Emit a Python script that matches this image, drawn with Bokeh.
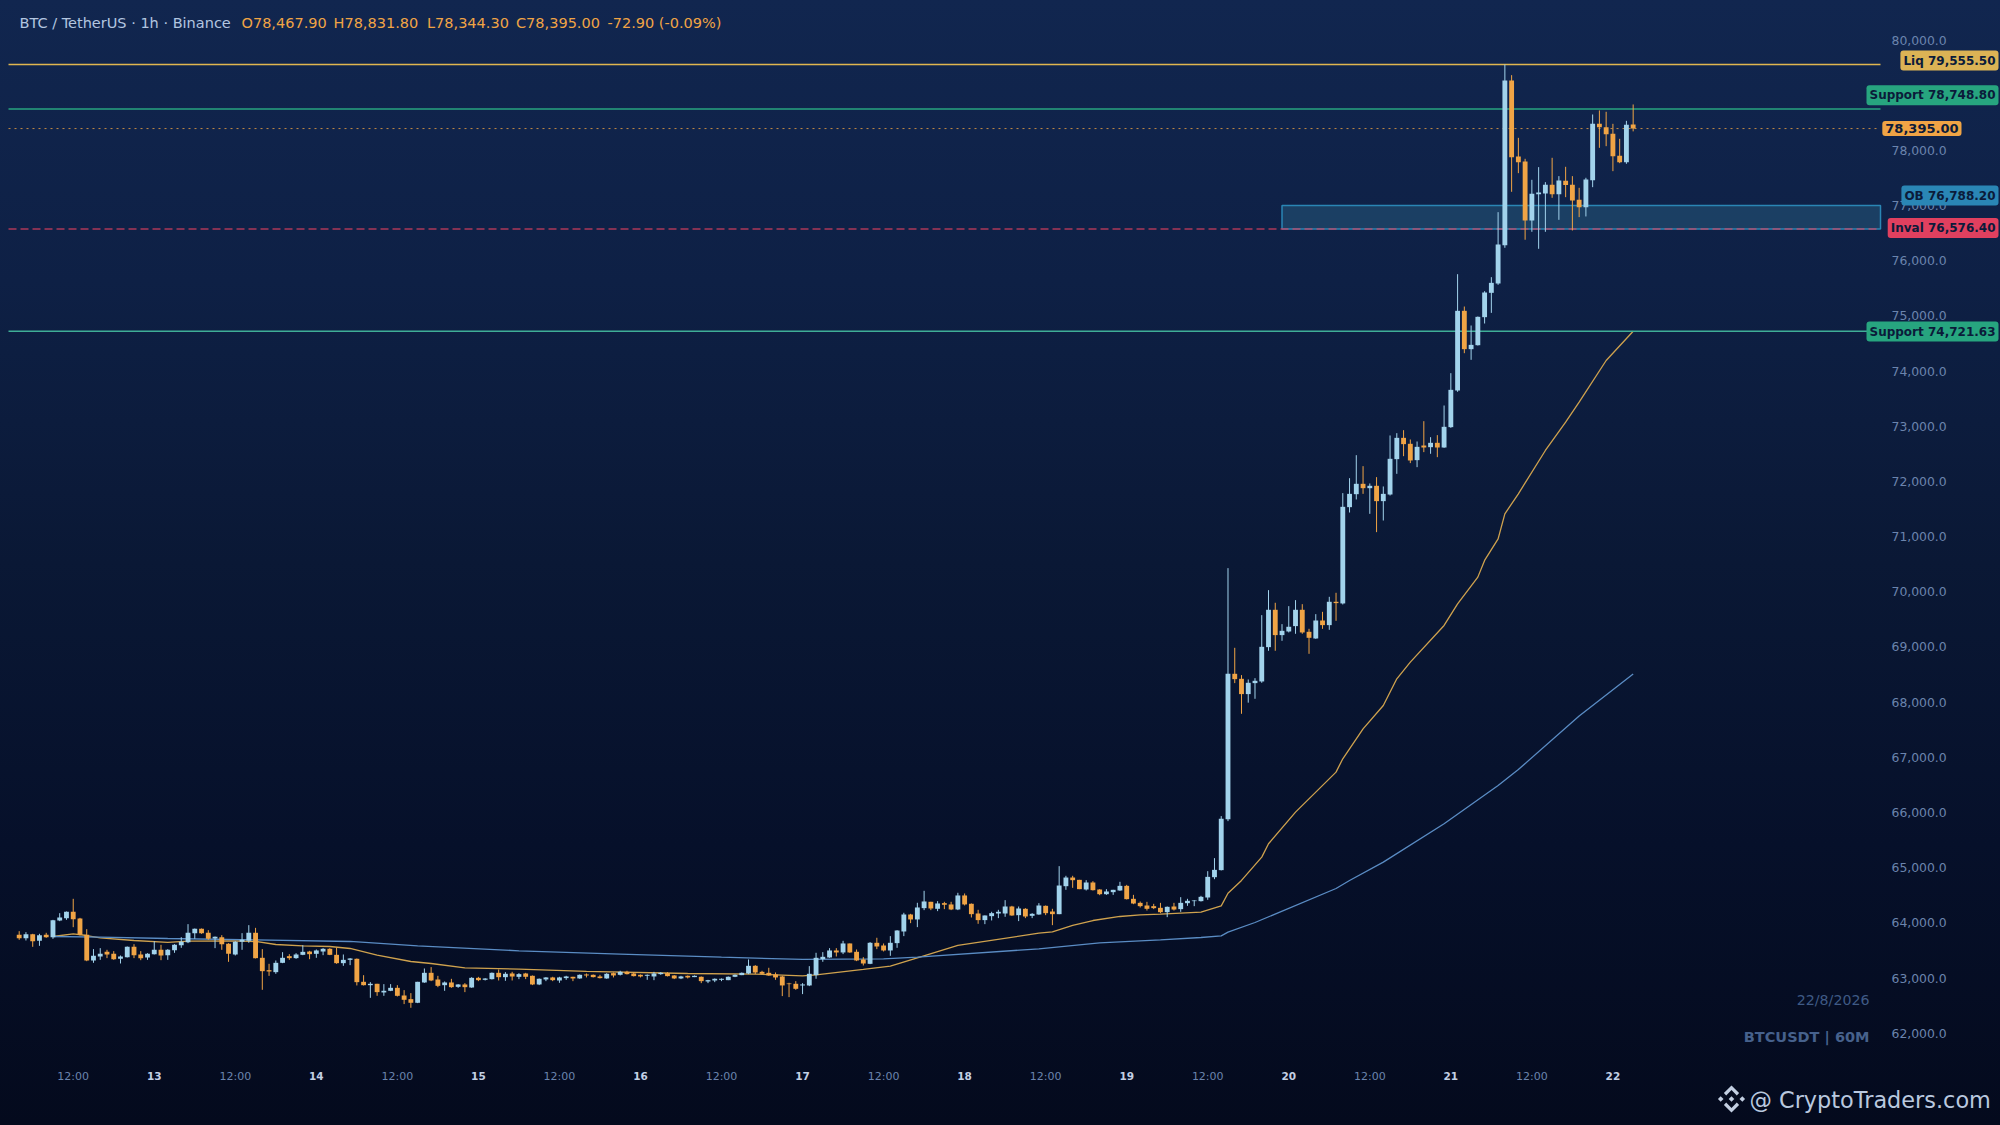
from bokeh.plotting import figure
from bokeh.models import Range1d, LinearAxis, FixedTicker, NumeralTickFormatter, Label
from bokeh.embed import file_html
from bokeh.resources import INLINE

opens = [
63784,63723,63796,63675,63784,63741,64043,64085,64200,64079,
63784,63318,63391,63475,63439,63349,63379,63566,63427,63373,
63433,63512,63415,63506,63596,63651,63814,63892,63820,63717,
63741,63620,63427,63657,63675,63820,63367,63143,63107,63276,
63397,63361,63421,63481,63439,63481,63530,63421,63270,63330,
63349,62932,62871,62896,62739,62769,62823,62684,62618,62552,
62920,63095,62974,62871,62920,62841,62884,62829,63004,62968,
62980,63095,63016,63083,63022,63083,63041,62884,62975,63011,
62956,62999,63023,62993,63065,63059,63029,62993,63089,63059,
63113,63083,63059,63041,63029,63071,63089,63047,62993,63041,
63017,63023,62938,62956,62968,62962,63023,63053,63083,63222,
63113,63095,63065,63029,62902,62896,62866,62866,63053,63343,
63373,63500,63464,63627,63476,63337,63258,63639,63590,63500,
63633,63844,64152,64062,64267,64382,64255,64358,64334,64243,
64497,64346,64170,64050,64122,64170,64170,64297,64140,64255,
64128,64152,64309,64206,64158,64665,64822,64780,64605,64732,
64605,64520,64557,64587,64671,64436,64363,64315,64303,64273,
64194,64297,64249,64357,64394,64394,64460,64828,64956,65880,
68514,68423,68146,68345,68375,68997,69674,69215,69281,69378,
69674,69275,69154,69480,69396,69819,69789,71534,71769,71957,
71878,71921,71643,71763,72404,72790,72682,72386,72651,72621,
72700,72615,72984,73648,75092,74397,74469,74977,75418,75587,
76282,79266,77889,77798,76729,77206,77219,77376,77206,77448,
77376,77104,76971,77460,78481,78421,78300,77901,77786,78467.9]
closes = [
63723,63796,63669,63777,63741,64049,64097,64200,64067,63784,
63318,63403,63439,63427,63342,63391,63566,63415,63361,63439,
63512,63409,63512,63602,63657,63820,63892,63814,63711,63747,
63614,63439,63657,63693,63820,63361,63125,63119,63276,63367,
63361,63427,63475,63433,63500,63530,63421,63270,63330,63355,
62926,62871,62896,62745,62769,62823,62678,62606,62552,62932,
63095,62956,62859,62920,62835,62884,62835,63004,62962,62992,
63095,63016,63077,63028,63071,63023,62884,62987,63011,62962,
63011,63029,62993,63059,63047,63017,62999,63077,63047,63113,
63071,63035,63029,63059,63083,63095,63035,62993,63029,63011,
63041,62944,62962,62987,62987,63023,63059,63095,63222,63101,
63077,63047,63011,62866,62890,62805,62884,63077,63367,63385,
63500,63464,63627,63464,63319,63264,63639,63572,63500,63639,
63862,64152,64062,64279,64388,64261,64352,64328,64243,64497,
64334,64158,64050,64134,64176,64201,64297,64134,64261,64116,
64164,64315,64176,64158,64677,64822,64774,64611,64732,64593,
64520,64569,64599,64671,64430,64351,64303,64255,64267,64194,
64291,64242,64363,64400,64406,64472,64834,64961,65887,68514,
68417,68146,68351,68387,69003,69674,69215,69293,69366,69674,
69263,69166,69480,69396,69819,69795,71540,71775,71957,71878,
71921,71643,71775,72410,72790,72676,72380,72627,72615,72700,
72615,72990,73660,75092,74397,74475,74983,75424,75599,76295,
79266,77877,77786,76729,77212,77236,77376,77206,77454,77370,
77092,76971,77472,78481,78421,78294,77895,77786,78463,78395]
highs = [
63850,63832,63802,63802,63820,64055,64176,64206,64436,64091,
63886,63524,63542,63512,63488,63409,63572,63614,63488,63451,
63669,63602,63524,63614,63741,63977,63898,63898,63868,63753,
63777,63632,63669,63814,63959,63910,63524,63258,63318,63469,
63433,63451,63596,63494,63518,63542,63542,63548,63427,63361,
63355,63052,62926,62896,62890,62890,62871,62781,62727,62932,
63173,63198,63040,62938,62986,62890,62908,63016,63022,62998,
63101,63155,63107,63113,63089,63095,63047,62993,63017,63023,
63023,63041,63023,63065,63083,63065,63059,63089,63101,63132,
63132,63107,63065,63065,63113,63107,63107,63053,63041,63047,
63047,63029,62968,62993,62993,63029,63065,63101,63337,63234,
63132,63186,63101,63041,62914,62944,62908,63216,63458,63470,
63542,63542,63675,63627,63518,63379,63651,63730,63627,63760,
63868,64183,64164,64364,64581,64382,64394,64382,64382,64545,
64533,64352,64237,64134,64201,64237,64412,64309,64297,64267,
64176,64358,64315,64255,65028,64853,64853,64780,64774,64756,
64611,64611,64599,64744,64689,64508,64387,64381,64345,64363,
64297,64363,64466,64436,64412,64490,64937,65173,65935,70429,
68985,68490,68411,68435,69577,70030,69801,69414,69740,69849,
69776,69329,69595,69637,69909,69982,71788,72059,72476,72277,
71963,72078,71909,72833,72875,72929,72760,72724,73092,72802,
72839,73376,73962,75756,75170,74826,74989,75448,75702,76880,
79555.5,79363,78227,77847,77466,77696,77424,77865,77533,77702,
77533,77321,77503,78650,78723,78699,78481,78209,78535,78831.8]
lows = [
63693,63681,63566,63584,63729,63711,64031,64055,63922,63772,
63306,63276,63330,63361,63330,63264,63373,63361,63324,63330,
63427,63324,63330,63457,63548,63633,63711,63802,63693,63542,
63512,63294,63409,63512,63639,63355,62787,63040,63077,63270,
63330,63349,63415,63342,63367,63415,63415,63258,63222,63234,
62866,62865,62642,62678,62678,62763,62666,62528,62461,62546,
62914,62944,62835,62769,62823,62823,62745,62823,62944,62956,
62974,62956,62950,62956,62980,62981,62872,62872,62944,62944,
62914,62968,62944,62987,63011,63011,62993,62987,63011,63047,
63065,63029,63011,62968,62962,63059,63029,62981,62981,62993,
63017,62908,62908,62926,62944,62962,63017,63053,63071,63071,
63065,63041,62968,62673,62654,62787,62709,62854,62987,63295,
63367,63391,63434,63458,63307,63228,63252,63524,63482,63403,
63548,63760,63995,63923,64231,64231,64213,64249,64231,64231,
64316,64098,63983,63977,64044,64086,64110,64128,64032,64086,
64086,64146,64140,63959,64158,64599,64635,64611,64587,64587,
64502,64508,64508,64581,64424,64339,64279,64224,64249,64176,
64104,64224,64200,64309,64303,64387,64418,64792,64950,65844,
68345,67789,67991,68061,68351,68931,68931,69112,69263,69239,
69239,68876,69148,69329,69311,69474,69770,71437,71673,71775,
71413,71081,71292,71745,72138,72458,72332,72259,72531,72501,
72440,72609,72971,73624,74324,74204,74463,74862,75055,75563,
76234,77249,77587,76380,76524,76216,76524,77140,76741,77152,
76548,76790,76802,77333,78046,78076,77623,77768,77756,78344.3]

ema_fast_idx = [5,8,10,12,17,22,25,32,35,38,42,46,49,53,58,61,66,74,84,99,109,116,118,125,129,133,139,151,153,156,159,163,166,169,175,178,179,181,184,185,189,195,196,199,202,204,206,211,213,216,217,219,220,222,226,229,231,235,239]
ema_fast = [63753,63802,63771,63729,63681,63645,63669,63675,63663,63608,63584,63572,63536,63415,63300,63264,63186,63161,63120,63083,63071,63041,63059,63156,63216,63367,63591,63814,63838,63953,64043,64116,64146,64158,64194,64309,64538,64769,65192,65434,66007,66732,66974,67517,67940,68423,68725,69390,69782,70266,70568,70960,71413,71776,72561,73074,73437,74192,74721.63]
ema_slow_idx = [5,12,22,35,49,59,74,89,104,116,128,133,151,160,169,175,178,179,183,195,197,202,211,219,222,231,239]
ema_slow = [63753,63741,63717,63693,63663,63584,63494,63434,63379,63337,63349,63379,63530,63639,63693,63735,63765,63832,64007,64623,64769,65101,65796,66491,66780,67749,68510]

price_ticks = list(range(62000, 80001, 1000))
hour_ticks = [8, 32, 56, 80, 104, 128, 152, 176, 200, 224]
day_ticks = [20, 44, 68, 92, 116, 140, 164, 188, 212, 236]
day_labels = ["13", "14", "15", "16", "17", "18", "19", "20", "21", "22"]

liq_level = 79555.5
support_high = 78748.8
last_close = 78395.0
ob_top = 77000.0
ob_mid = 76788.2
inval_level = 76576.4
support_low = 74721.63
ob_start_idx = 187

# ---- layout helpers: page pixels <-> data
SPACING = 6.753
X0 = 18.7
PXM = 0.05518
def xd(px):
    return (px - X0) / SPACING
def yd(py):
    return 80000 - (py - 39.5) / PXM

F_L, F_R, F_B = 8, 1880, 1060
p = figure(width=2000, height=1125, output_backend="svg", toolbar_location=None,
           x_range=Range1d(xd(0), xd(2000)), y_range=Range1d(yd(1125), yd(0)),
           y_axis_location=None, x_axis_location=None,
           min_border=0, background_fill_color=None, border_fill_color=None, outline_line_color=None)
p.grid.visible = False

AX = "#6b84ad"
yax = LinearAxis(ticker=FixedTicker(ticks=price_ticks), formatter=NumeralTickFormatter(format="0,0.0"),
                 fixed_location=xd(F_R), axis_line_color=None, major_tick_line_color=None,
                 minor_tick_line_color=None, major_label_standoff=5, major_label_text_color=AX,
                 major_label_text_font="DejaVu Sans", major_label_text_font_size="12.4px")
p.add_layout(yax, "right")
xax = LinearAxis(ticker=FixedTicker(ticks=hour_ticks),
                 major_label_overrides={t: "12:00" for t in hour_ticks},
                 fixed_location=yd(F_B), axis_line_color=None, major_tick_line_color=None,
                 minor_tick_line_color=None, major_label_standoff=3, major_label_text_color=AX,
                 major_label_text_font="DejaVu Sans", major_label_text_font_size="11px")
p.add_layout(xax, "below")
dax = LinearAxis(ticker=FixedTicker(ticks=day_ticks),
                 major_label_overrides=dict(zip(day_ticks, day_labels)),
                 fixed_location=yd(F_B), axis_line_color=None, major_tick_line_color=None,
                 minor_tick_line_color=None, major_label_standoff=5,
                 major_label_text_color="#c3d0e4", major_label_text_font="DejaVu Sans",
                 major_label_text_font_style="bold", major_label_text_font_size="10.5px")
p.add_layout(dax, "below")

# order block box
p.quad(left=[ob_start_idx], right=[xd(F_R)], top=[ob_top], bottom=[inval_level],
       fill_color="#3f8fb0", fill_alpha=0.27, line_color="#2a86b5", line_width=1.5)

# moving averages
p.line(ema_fast_idx, ema_fast, line_color="#cfa24e", line_width=1.3)
p.line(ema_slow_idx, ema_slow, line_color="#5a8cc4", line_width=1.3)

# levels
def hline(level, color, width, dash="solid", alpha=1.0):
    p.segment([xd(F_L)], [level], [xd(F_R)], [level], line_color=color, line_width=width,
              line_dash=dash, line_alpha=alpha)
hline(liq_level, "#e0b64f", 1.5)
hline(support_high, "#27a57f", 1.5)
hline(support_low, "#3fae97", 1.5)
hline(last_close, "#f0a445", 1.0, "2 4", 0.8)
hline(inval_level, "#e0405f", 1.5, "8 4", 0.75)

# candles
UP, DOWN = "#a2d3ec", "#f0a445"
idx = list(range(len(opens)))
colors = [UP if c >= o else DOWN for o, c in zip(opens, closes)]
p.segment(idx, highs, idx, lows, line_color=colors, line_width=1)
p.vbar(x=idx, width=0.72, top=[max(o, c) for o, c in zip(opens, closes)],
       bottom=[min(o, c) for o, c in zip(opens, closes)], fill_color=colors, line_color=None)

# price tags
NAVY = "#0b1b3a"
def tag(text, right, cy, color, size="12px"):
    p.add_layout(Label(x=xd(right), y=yd(cy), text=text, text_align="right", text_baseline="middle",
                       text_font="DejaVu Sans", text_font_style="bold", text_font_size=size,
                       text_color=NAVY, background_fill_color=color, border_radius=3, padding=3))
tag(f"Liq {liq_level:,.2f}", 1998, 60, "#dcb355")
tag(f"Support {support_high:,.2f}", 1998, 94.7, "#27a57f")
tag(f"{last_close:,.2f}", 1961, 128, "#f0a445", "13px")
tag(f"OB {ob_mid:,.2f}", 1998, 195, "#2a86b5")
tag(f"Inval {inval_level:,.2f}", 1998, 227.5, "#e0405f")
tag(f"Support {support_low:,.2f}", 1998, 331, "#27a57f")

# header and watermarks
def note(text, x, cy, color, size, style="normal", align="left"):
    p.add_layout(Label(x=xd(x), y=yd(cy), text=text, text_align=align, text_baseline="middle",
                       text_font="DejaVu Sans", text_font_style=style, text_font_size=size, text_color=color))
note("BTC / TetherUS · 1h · Binance", 19, 22.5, "#b3c6e0", "14.5px")
HDR = "#f0a445"
note(f"O{opens[-1]:,.2f}", 241, 22.5, HDR, "14.5px")
note(f"H{highs[-1]:,.2f}", 333, 22.5, HDR, "14.5px")
note(f"L{lows[-1]:,.2f}", 426.5, 22.5, HDR, "14.5px")
note(f"C{closes[-1]:,.2f}", 515.5, 22.5, HDR, "14.5px")
note("-72.90 (-0.09%)", 607, 22.5, HDR, "14.5px")
note("22/8/2026", 1869, 999, "#3f5a85", "14.2px", align="right")
note("BTCUSDT | 60M", 1869, 1036, "#46618c", "14.5px", "bold", "right")
note("@ CryptoTraders.com", 1749, 1099, "#b9c8df", "22.4px")

# exchange logo
LOGO_X, LOGO_Y = 1731, 1098.5
def poly(pts):
    return [xd(LOGO_X + a) for a, b in pts], [yd(LOGO_Y + b) for a, b in pts]
def dia(cx, cy, r):
    return [(cx, cy - r), (cx + r, cy), (cx, cy + r), (cx - r, cy)]
shapes = [dia(0, 0, 2.8), dia(-10.8, 0, 2.8), dia(10.8, 0, 2.8),
          [(0, -13.5), (7.6, -5.9), (5.3, -3.6), (0, -8.9), (-5.3, -3.6), (-7.6, -5.9)],
          [(0, 13.5), (7.6, 5.9), (5.3, 3.6), (0, 8.9), (-5.3, 3.6), (-7.6, 5.9)]]
xs = [poly(s)[0] for s in shapes]
ys = [poly(s)[1] for s in shapes]
p.patches(xs, ys, fill_color="#c3cfe2", line_color=None)

html = file_html(p, INLINE)
style = ("<style>html,body{margin:0;padding:0;overflow:hidden;width:2000px;height:1125px;"
         "background:linear-gradient(180deg,#11264f 0%,#0e2045 25%,#0a1835 50%,#06102a 75%,#040a1d 100%);}</style>")
html = html.replace("</head>", style + "</head>")
open("out.html", "w").write(html)
